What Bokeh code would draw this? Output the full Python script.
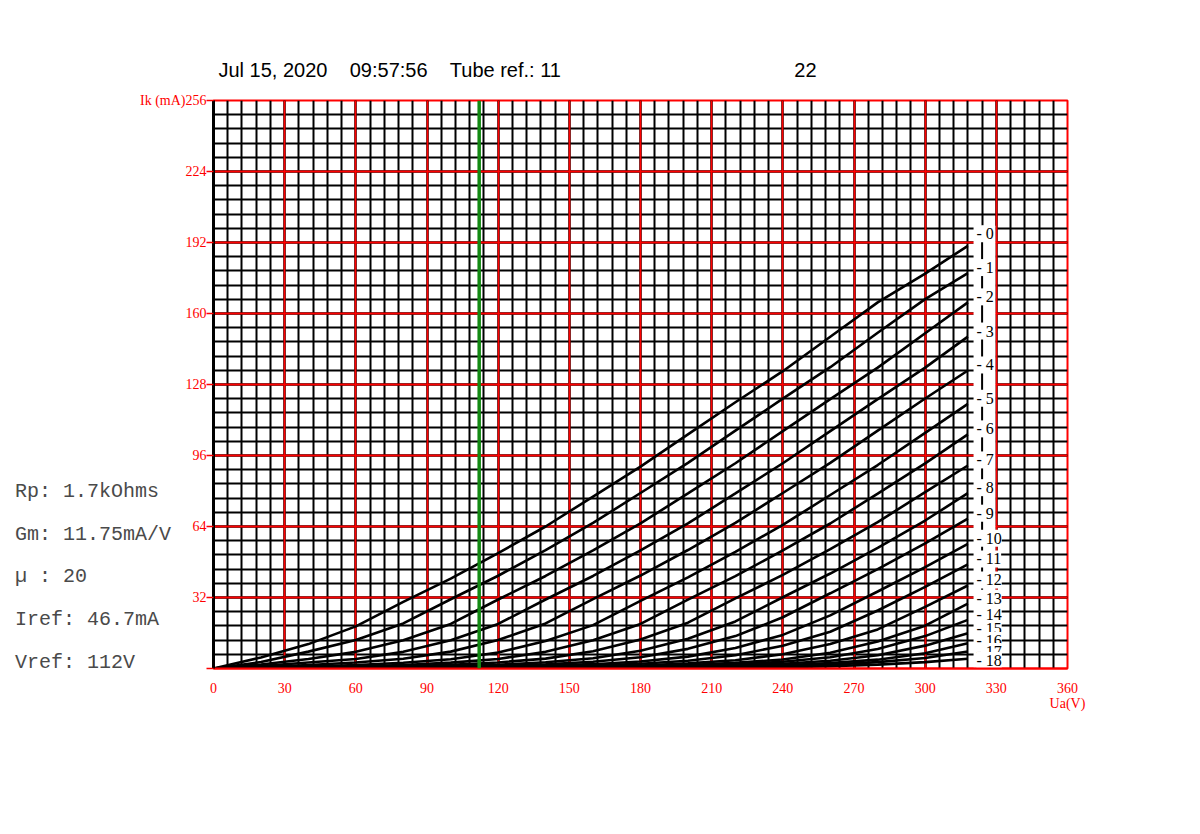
from bokeh.plotting import figure
from bokeh.models import SingleIntervalTicker, Span, Range1d, Title, Grid
from bokeh.core.properties import value
from bokeh.embed import file_html
from bokeh.resources import INLINE

# Anode voltage sample points (V)
ua = [0, 20, 40, 60, 80, 100, 120, 140, 160, 180, 200, 220, 240, 260, 280, 300, 318]

# Cathode current (mA) for each grid voltage 0 .. -18 V
g0 = [0, 5, 11, 19, 30, 40.5, 52, 64, 77.5, 91, 105.5, 120, 134, 149.5, 165, 178, 190.5]
g1 = [0, 2.9, 7.6, 12.8, 20.3, 31.2, 41.8, 53.4, 65.6, 79.1, 92.7, 107.2, 121.6, 135.8, 151.3, 166.5, 178.2]
g2 = [0, 1.8, 4.3, 7.5, 12.7, 20.1, 31.1, 41.7, 53.2, 65.4, 78.9, 92.5, 107.0, 121.4, 135.6, 151.1, 165.0]
g3 = [0, 1.1, 2.7, 4.3, 7.5, 12.7, 20.1, 31.1, 41.7, 53.2, 65.4, 78.9, 92.5, 107.0, 121.4, 135.6, 149.6]
g4 = [0, 0.65, 1.6, 2.7, 4.4, 7.6, 12.8, 20.3, 31.3, 41.9, 53.4, 65.6, 79.1, 92.7, 107.2, 121.7, 134.3]
g5 = [0, 0.35, 0.93, 1.55, 2.6, 4.15, 7.25, 12.35, 19.55, 30.5, 41.1, 52.6, 64.7, 78.2, 91.7, 106.2, 119.3]
g6 = [0, 0.21, 0.54, 0.96, 1.6, 2.65, 4.3, 7.5, 12.7, 20.1, 31.05, 41.65, 53.2, 65.35, 78.85, 92.45, 105.5]
g7 = [0, 0.14, 0.33, 0.56, 0.99, 1.65, 2.73, 4.45, 7.75, 13.05, 20.65, 31.6, 42.2, 53.8, 66.0, 79.5, 91.5]
g8 = [0, 0.11, 0.22, 0.34, 0.58, 1.02, 1.7, 2.8, 4.6, 8.0, 13.4, 21.2, 32.1, 42.8, 54.4, 66.7, 79.0]
g9 = [0, 0.08, 0.17, 0.24, 0.37, 0.65, 1.12, 1.87, 3.05, 5.1, 8.85, 14.6, 23.1, 33.9, 44.75, 56.4, 67.5]
g10 = [0, 0.07, 0.12, 0.17, 0.25, 0.4, 0.68, 1.17, 1.95, 3.18, 5.35, 9.25, 15.15, 23.95, 34.7, 45.7, 56.2]
g11 = [0, 0.07, 0.1, 0.13, 0.18, 0.27, 0.43, 0.76, 1.29, 2.15, 3.48, 5.95, 10.25, 16.55, 26.15, 36.8, 46.9]
g12 = [0, 0.07, 0.1, 0.1, 0.14, 0.19, 0.28, 0.46, 0.82, 1.38, 2.3, 3.7, 6.4, 11.0, 17.6, 27.8, 37.4]
g13 = [0, 0.07, 0.1, 0.1, 0.1, 0.15, 0.2, 0.3, 0.5, 0.92, 1.52, 2.54, 4.08, 7.1, 12.2, 19.3, 29.2]
g14 = [0, 0.07, 0.1, 0.1, 0.1, 0.12, 0.17, 0.24, 0.37, 0.65, 1.12, 1.87, 3.05, 5.1, 8.8, 14.6, 21.9]
g15 = [0, 0.07, 0.1, 0.1, 0.1, 0.1, 0.13, 0.18, 0.27, 0.43, 0.76, 1.29, 2.15, 3.5, 6.0, 10.3, 15.9]
g16 = [0, 0.07, 0.1, 0.1, 0.1, 0.1, 0.1, 0.15, 0.2, 0.3, 0.5, 0.89, 1.49, 2.48, 3.98, 6.9, 11.4]
g17 = [0, 0.07, 0.1, 0.1, 0.1, 0.1, 0.1, 0.11, 0.16, 0.22, 0.34, 0.6, 1.04, 1.74, 2.86, 4.7, 7.7]
g18 = [0, 0.07, 0.1, 0.1, 0.1, 0.1, 0.1, 0.1, 0.11, 0.16, 0.22, 0.34, 0.6, 1.04, 1.74, 2.86, 4.4]

curves = [g0, g1, g2, g3, g4, g5, g6, g7, g8, g9, g10, g11, g12, g13, g14, g15, g16, g17, g18]
grid_volts = list(range(0, 19))
curve_labels = ["- %d" % g for g in grid_volts]

vref = 112
title_parts = ["Jul 15, 2020", "09:57:56", "Tube ref.: 11", "22"]
info_lines = ["Rp: 1.7kOhms", "Gm: 11.75mA/V", "\u00b5 : 20", "Iref: 46.7mA", "Vref: 112V"]

RED = "#ff0000"
SERIF = value("Liberation Serif")
NB = "\u00a0"

p = figure(frame_width=854, frame_height=568,
           min_border_left=213, min_border_right=117,
           min_border_top=100, min_border_bottom=150,
           x_range=Range1d(0, 360), y_range=Range1d(0, 256),
           output_backend="svg", toolbar_location=None)
p.background_fill_color = "white"
p.border_fill_color = "white"
p.outline_line_color = RED
p.outline_line_width = 2

xt = SingleIntervalTicker(interval=30, num_minor_ticks=5)
yt = SingleIntervalTicker(interval=32, num_minor_ticks=5)
xaxis = p.xaxis[0]
yaxis = p.yaxis[0]
xaxis.ticker = xt
yaxis.ticker = yt

# black fine grid first, red main grid on top
for g, t in ((p.xgrid[0], xt), (p.ygrid[0], yt)):
    g.ticker = t
    g.grid_line_color = "black"
    g.grid_line_width = 2
    g.minor_grid_line_color = "black"
    g.minor_grid_line_width = 2
p.add_layout(Grid(dimension=0, ticker=xt, grid_line_color=RED, grid_line_width=1.8))
p.add_layout(Grid(dimension=1, ticker=yt, grid_line_color=RED, grid_line_width=1.8))

# axes
xaxis.axis_line_color = RED
xaxis.axis_line_width = 2
xaxis.major_tick_line_color = None
xaxis.minor_tick_line_color = None
xaxis.major_label_standoff = 6
xaxis.major_label_text_color = RED
xaxis.major_label_text_font = "Liberation Serif"
xaxis.major_label_text_font_size = "14px"
xaxis.major_label_text_line_height = 1.0
xaxis.major_label_overrides = {360: "360\nUa(V)"}

yaxis.axis_line_color = "black"
yaxis.axis_line_width = 3
yaxis.major_tick_line_color = RED
yaxis.major_tick_line_width = 1.5
yaxis.major_tick_in = 0
yaxis.major_tick_out = 7
yaxis.minor_tick_line_color = None
yaxis.major_label_standoff = 0
yaxis.major_label_text_color = RED
yaxis.major_label_text_font = "Liberation Serif"
yaxis.major_label_text_font_size = "14px"
yaxis.major_label_overrides = {0: "", 256: "Ik (mA)256"}

# tube parameters, left of the chart: monospace block, padded to equal width,
# pushed down by blank lines so it sits beside the lower half of the grid
width = max(len(s) for s in info_lines)
padded = [s + NB * (width - len(s)) for s in info_lines]
yaxis.axis_label = "\n" * 18 + "\n\n".join(padded)
yaxis.axis_label_orientation = "horizontal"
yaxis.axis_label_standoff = -34
yaxis.axis_label_text_font = "Liberation Mono"
yaxis.axis_label_text_font_size = "20px"
yaxis.axis_label_text_font_style = "normal"
yaxis.axis_label_text_color = "#4a4a4a"
yaxis.axis_label_text_line_height = 0.929

# curves
for c in curves:
    p.line(ua, c, line_color="black", line_width=2.6)

# white strip behind the curve labels, and the grid line that shows through it
p.quad(left=320.4, right=329.6, bottom=0.5, top=199.5, fill_color="white", line_color=None)
p.segment(x0=324, y0=0, x1=324, y1=199.5, line_color="black", line_width=2)

# curve labels sit a little above each curve's end, squeezed together at the bottom
label_shift = [5.5] + [2.5] * 14 + [2.1, 1.2, 0.0, -0.8]
label_y = [c[-1] + d for c, d in zip(curves, label_shift)]
p.text(x=[321.6] * len(curves), y=label_y, text=curve_labels,
       text_font=SERIF, text_font_size="16px", text_color="black",
       text_baseline="middle", text_align="left",
       background_fill_color="white")

# reference voltage
p.add_layout(Span(location=vref, dimension="height", line_color="#138a13", line_width=3.5))

# header line
gaps = [4, 4, 42]
header = title_parts[0]
for gap, part in zip(gaps, title_parts[1:]):
    header += NB * gap + part
p.add_layout(Title(text=header, align="left", offset=5, standoff=40,
                   text_font="Liberation Sans", text_font_size="20px",
                   text_font_style="normal", text_color="black"), "above")

open("out.html", "w").write(file_html(p, INLINE))
